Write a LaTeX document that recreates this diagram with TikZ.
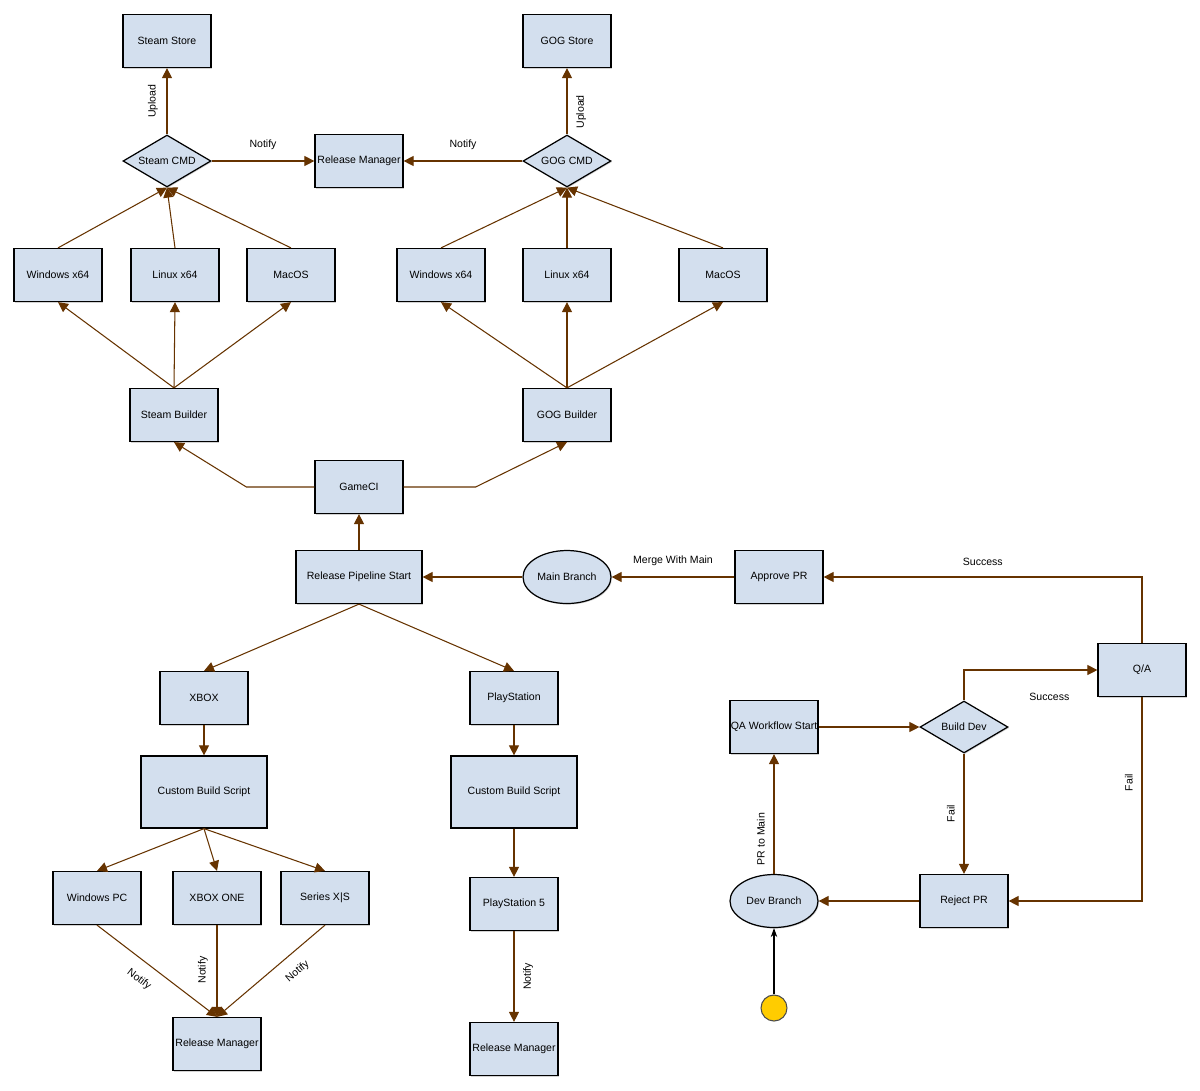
\documentclass[tikz,border=0pt]{standalone}
\usepackage{fontspec}
\setmainfont{Liberation Sans}
\usetikzlibrary{shapes.geometric,arrows.meta,shadows}
\definecolor{boxfill}{RGB}{211,223,238}
\definecolor{flowbrown}{RGB}{102,51,0}
\definecolor{startyellow}{RGB}{255,204,0}

\begin{document}
\begin{tikzpicture}[x=0.02cm,y=-0.02cm,
  font=\fontsize{6}{7}\selectfont,
  box/.style={draw,fill=boxfill,line width=0.7pt,minimum width=1.76cm,minimum height=1.06cm,inner sep=0pt,
    drop shadow={shadow xshift=0.6pt,shadow yshift=-0.6pt,fill=black!35}},
  widebox/.style={box,minimum width=2.52cm},
  tallbox/.style={widebox,minimum height=1.44cm},
  decision/.style={box,diamond,aspect=2.2,minimum height=1.04cm},
  branch/.style={box,ellipse},
  flow/.style={draw=flowbrown,line width=0.6pt,-{Triangle[length=2mm,width=2mm]}},
  lbl/.style={inner sep=1pt}]

\useasboundingbox (0,0) rectangle (1200,1090);

% steam and gog side
\node[box] (steamstore) at (167,41) {Steam Store};
\node[box] (gogstore) at (567,41) {GOG Store};
\node[decision] (steamcmd) at (167,161) {Steam CMD};
\node[box] (relmgr) at (359,161) {Release Manager};
\node[decision] (gogcmd) at (567,161) {GOG CMD};

\node[box] (steamwin) at (58,275) {Windows x64};
\node[box] (steamlinux) at (175,275) {Linux x64};
\node[box] (steammac) at (291,275) {MacOS};
\node[box] (gogwin) at (441,275) {Windows x64};
\node[box] (goglinux) at (567,275) {Linux x64};
\node[box] (gogmac) at (723,275) {MacOS};

\node[box] (steambuild) at (174,415) {Steam Builder};
\node[box] (gogbuild) at (567,415) {GOG Builder};
\node[box] (gameci) at (359,487) {GameCI};
\node[widebox] (pipeline) at (359,577) {Release Pipeline Start};

% qa workflow
\node[branch] (mainbranch) at (567,577) {Main Branch};
\node[box] (approve) at (779,577) {Approve PR};
\node[box] (qa) at (1142,670) {Q/A};
\node[decision] (builddev) at (964,727) {Build Dev};
\node[box] (qastart) at (774,727) {QA Workflow Start};
\node[branch] (devbranch) at (774,901) {Dev Branch};
\node[box] (reject) at (964,901) {Reject PR};
\node[circle,draw=black!70,fill=startyellow,line width=0.6pt,minimum size=0.52cm,inner sep=0pt] (start) at (774,1008) {};

% consoles
\node[box] (xbox) at (204,698) {XBOX};
\node[box] (ps) at (514,698) {PlayStation};
\node[tallbox] (xscript) at (204,792) {Custom Build Script};
\node[tallbox] (psscript) at (514,792) {Custom Build Script};
\node[box] (winpc) at (97,898) {Windows PC};
\node[box] (xone) at (217,898) {XBOX ONE};
\node[box] (seriesxs) at (325,898) {Series X|S};
\node[box] (xrelmgr) at (217,1044) {Release Manager};
\node[box] (ps5) at (514,904) {PlayStation 5};
\node[box] (psrelmgr) at (514,1049) {Release Manager};

% connectors
\draw[flow] (steamcmd) -- (steamstore) node[lbl,midway,rotate=90,anchor=south,inner sep=5pt] {Upload};
\draw[flow] (gogcmd) -- (gogstore) node[lbl,pos=0.34,rotate=90,anchor=north,inner sep=5pt] {Upload};
\draw[flow] (steamcmd) -- (relmgr) node[lbl,midway,above=5pt] {Notify};
\draw[flow] (gogcmd) -- (relmgr) node[lbl,midway,above=5pt] {Notify};

\draw[flow] (steamwin.north) -- (steamcmd.south);
\draw[flow] (steamlinux.north) -- (steamcmd.south);
\draw[flow] (steammac.north) -- (steamcmd.south);
\draw[flow] (gogwin.north) -- (gogcmd.south);
\draw[flow] (goglinux.north) -- (gogcmd.south);
\draw[flow] (gogmac.north) -- (gogcmd.south);

\draw[flow] (steambuild.north) -- (steamwin.south);
\draw[flow] (steambuild.north) -- (steamlinux.south);
\draw[flow] (steambuild.north) -- (steammac.south);
\draw[flow] (gogbuild.north) -- (gogwin.south);
\draw[flow] (gogbuild.north) -- (goglinux.south);
\draw[flow] (gogbuild.north) -- (gogmac.south);

\draw[flow] (gameci.west) -- ++(-68,0) -- (steambuild.south);
\draw[flow] (gameci.east) -- ++(72,0) -- (gogbuild.south);
\draw[flow] (pipeline) -- (gameci);

\draw[flow] (mainbranch) -- (pipeline);
\draw[flow] (approve) -- (mainbranch) node[lbl,midway,above=5pt] {Merge With Main};
\draw[flow] (qa.north) |- (approve.east) node[lbl,pos=0.75,above=5pt] {Success};
\draw[flow] (builddev.north) |- (qa.west) node[lbl,pos=0.82,below=12pt] {Success};
\draw[flow] (qastart) -- (builddev);
\draw[flow] (builddev) -- (reject) node[lbl,midway,rotate=90,anchor=south,inner sep=5pt] {Fail};
\draw[flow] (qa.south) |- (reject.east) node[lbl,pos=0.21,rotate=90,anchor=south,inner sep=5pt] {Fail};
\draw[flow] (reject) -- (devbranch);
\draw[flow] (devbranch) -- (qastart) node[lbl,pos=0.29,rotate=90,anchor=south,inner sep=5pt] {PR to Main};
\draw[line width=0.6pt,-{Stealth[length=1.8mm,width=1.3mm]}] (start) -- (devbranch);

\draw[flow] (pipeline.south) -- (xbox.north);
\draw[flow] (pipeline.south) -- (ps.north);
\draw[flow] (xbox) -- (xscript);
\draw[flow] (ps) -- (psscript);
\draw[flow] (xscript.south) -- (winpc.north);
\draw[flow] (xscript.south) -- (xone.north);
\draw[flow] (xscript.south) -- (seriesxs.north);
\draw[flow] (winpc.south) -- (xrelmgr.north) node[lbl,pos=0.44,sloped,below=6pt] {Notify};
\draw[flow] (xone) -- (xrelmgr) node[lbl,pos=0.49,rotate=90,anchor=south,inner sep=5pt] {Notify};
\draw[flow] (seriesxs.south) -- (xrelmgr.north) node[lbl,pos=0.36,sloped,below=6pt] {Notify};
\draw[flow] (psscript) -- (ps5);
\draw[flow] (ps5) -- (psrelmgr) node[lbl,midway,rotate=90,anchor=north,inner sep=5pt] {Notify};
\end{tikzpicture}
\end{document}
